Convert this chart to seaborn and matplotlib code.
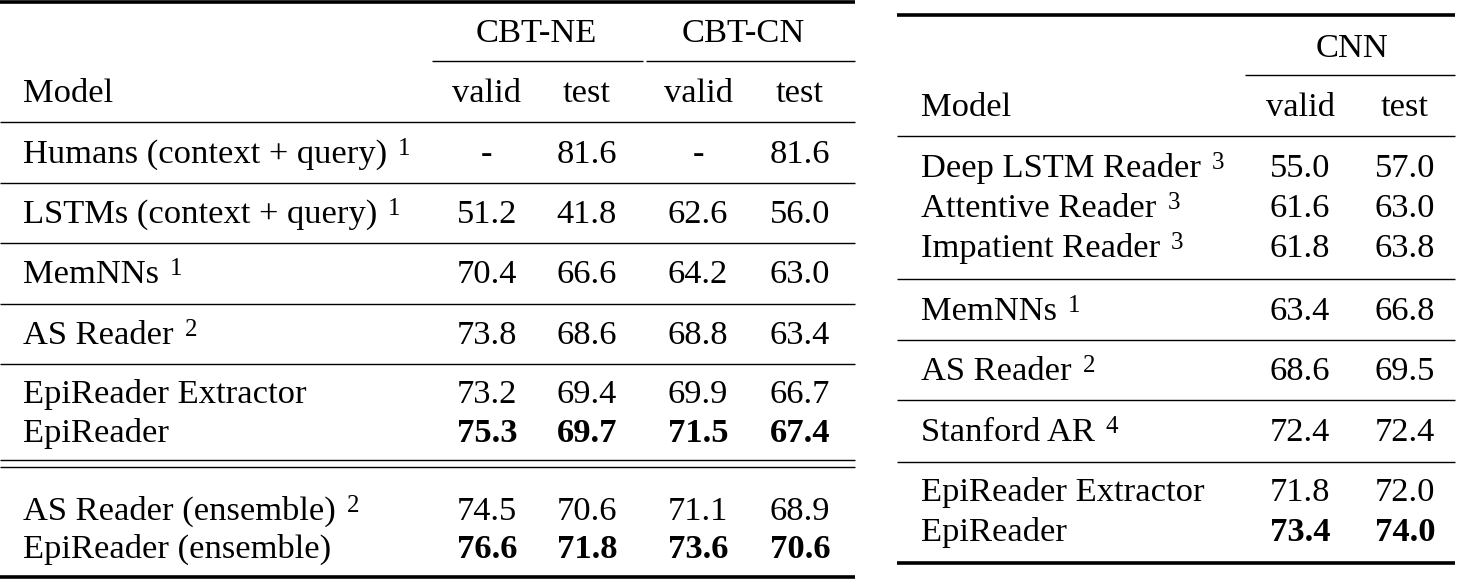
import numpy as np
import seaborn as sns
import matplotlib.pyplot as plt

# CBT table
cbt_models = ["Humans (context + query)", "LSTMs (context + query)", "MemNNs", "AS Reader",
              "EpiReader Extractor", "EpiReader", "AS Reader (ensemble)", "EpiReader (ensemble)"]
cbt_refs = [1, 1, 1, 2, None, None, 2, None]
cbt_ne_valid = [None, 51.2, 70.4, 73.8, 73.2, 75.3, 74.5, 76.6]
cbt_ne_test = [81.6, 41.8, 66.6, 68.6, 69.4, 69.7, 70.6, 71.8]
cbt_cn_valid = [None, 62.6, 64.2, 68.8, 69.9, 71.5, 71.1, 73.6]
cbt_cn_test = [81.6, 56.0, 63.0, 63.4, 66.7, 67.4, 68.9, 70.6]
cbt_bold = [False, False, False, False, False, True, False, True]

# CNN table
cnn_models = ["Deep LSTM Reader", "Attentive Reader", "Impatient Reader", "MemNNs",
              "AS Reader", "Stanford AR", "EpiReader Extractor", "EpiReader"]
cnn_refs = [3, 3, 3, 1, 2, 4, None, None]
cnn_valid = [55.0, 61.6, 61.8, 63.4, 68.6, 72.4, 71.8, 73.4]
cnn_test = [57.0, 63.0, 63.8, 66.8, 69.5, 72.4, 72.0, 74.0]
cnn_bold = [False, False, False, False, False, False, False, True]

sns.set_theme(style="white")
plt.rcParams['font.family'] = ['Liberation Serif', 'DejaVu Serif']

FS = 24.8
SUP_FS = 18
THIN = 1.0
THICK = 2.6

fig = plt.figure(figsize=(14.6, 5.82), dpi=100)
ax = fig.add_axes([0, 0, 1, 1])
ax.set_xlim(0, 1460)
ax.set_ylim(582, 0)
ax.axis('off')
renderer = fig.canvas.get_renderer()


def fmt(v):
    return "-" if v is None else "%.1f" % v


def put(x, y, s, ha='center', bold=False, size=FS):
    return ax.text(x, y, s, ha=ha, va='baseline', fontsize=size,
                   fontweight='bold' if bold else 'normal', color='black')


def put_label(x, y, name, ref):
    t = put(x, y, name, ha='left')
    if ref is not None:
        bb = t.get_window_extent(renderer)
        xe = ax.transData.inverted().transform((bb.x1, bb.y0))[0]
        put(xe + 11, y - 8, str(ref), ha='left', size=SUP_FS)


# ---- left table ----
lx0, lx1 = 0, 855
cols_l = [487, 587, 698, 800]
rows_l = [163, 223, 283, 344, 403, 442, 520, 558]

ax.hlines(2, lx0, lx1, color='black', lw=THICK)
put(536, 42, "CBT-NE")
put(743, 42, "CBT-CN")
ax.hlines(61, 432, 643, color='black', lw=THIN)
ax.hlines(61, 646, lx1, color='black', lw=THIN)
put(23, 102, "Model", ha='left')
for x, s in zip(cols_l, ["valid", "test", "valid", "test"]):
    put(x, 102, s)
for y in [122, 183, 243, 304, 364, 460, 467]:
    ax.hlines(y, lx0, lx1, color='black', lw=THIN)
ax.hlines(577, lx0, lx1, color='black', lw=THICK)

for i, y in enumerate(rows_l):
    put_label(23, y, cbt_models[i], cbt_refs[i])
    vals = [cbt_ne_valid[i], cbt_ne_test[i], cbt_cn_valid[i], cbt_cn_test[i]]
    for x, v in zip(cols_l, vals):
        put(x, y, fmt(v), bold=cbt_bold[i])

# ---- right table ----
rx0, rx1 = 897, 1455
cols_r = [1300, 1405]
rows_r = [177, 217, 257, 320, 380, 441, 501, 541]

ax.hlines(15, rx0, rx1, color='black', lw=THICK)
put(1352, 57, "CNN")
ax.hlines(75, 1245, rx1, color='black', lw=THIN)
put(921, 116, "Model", ha='left')
put(cols_r[0], 116, "valid")
put(cols_r[1], 116, "test")
for y in [136, 279, 340, 400, 462]:
    ax.hlines(y, rx0, rx1, color='black', lw=THIN)
ax.hlines(563, rx0, rx1, color='black', lw=THICK)

for i, y in enumerate(rows_r):
    put_label(921, y, cnn_models[i], cnn_refs[i])
    put(cols_r[0], y, fmt(cnn_valid[i]), bold=cnn_bold[i])
    put(cols_r[1], y, fmt(cnn_test[i]), bold=cnn_bold[i])

fig.savefig("out.png", dpi=100, facecolor='white')
